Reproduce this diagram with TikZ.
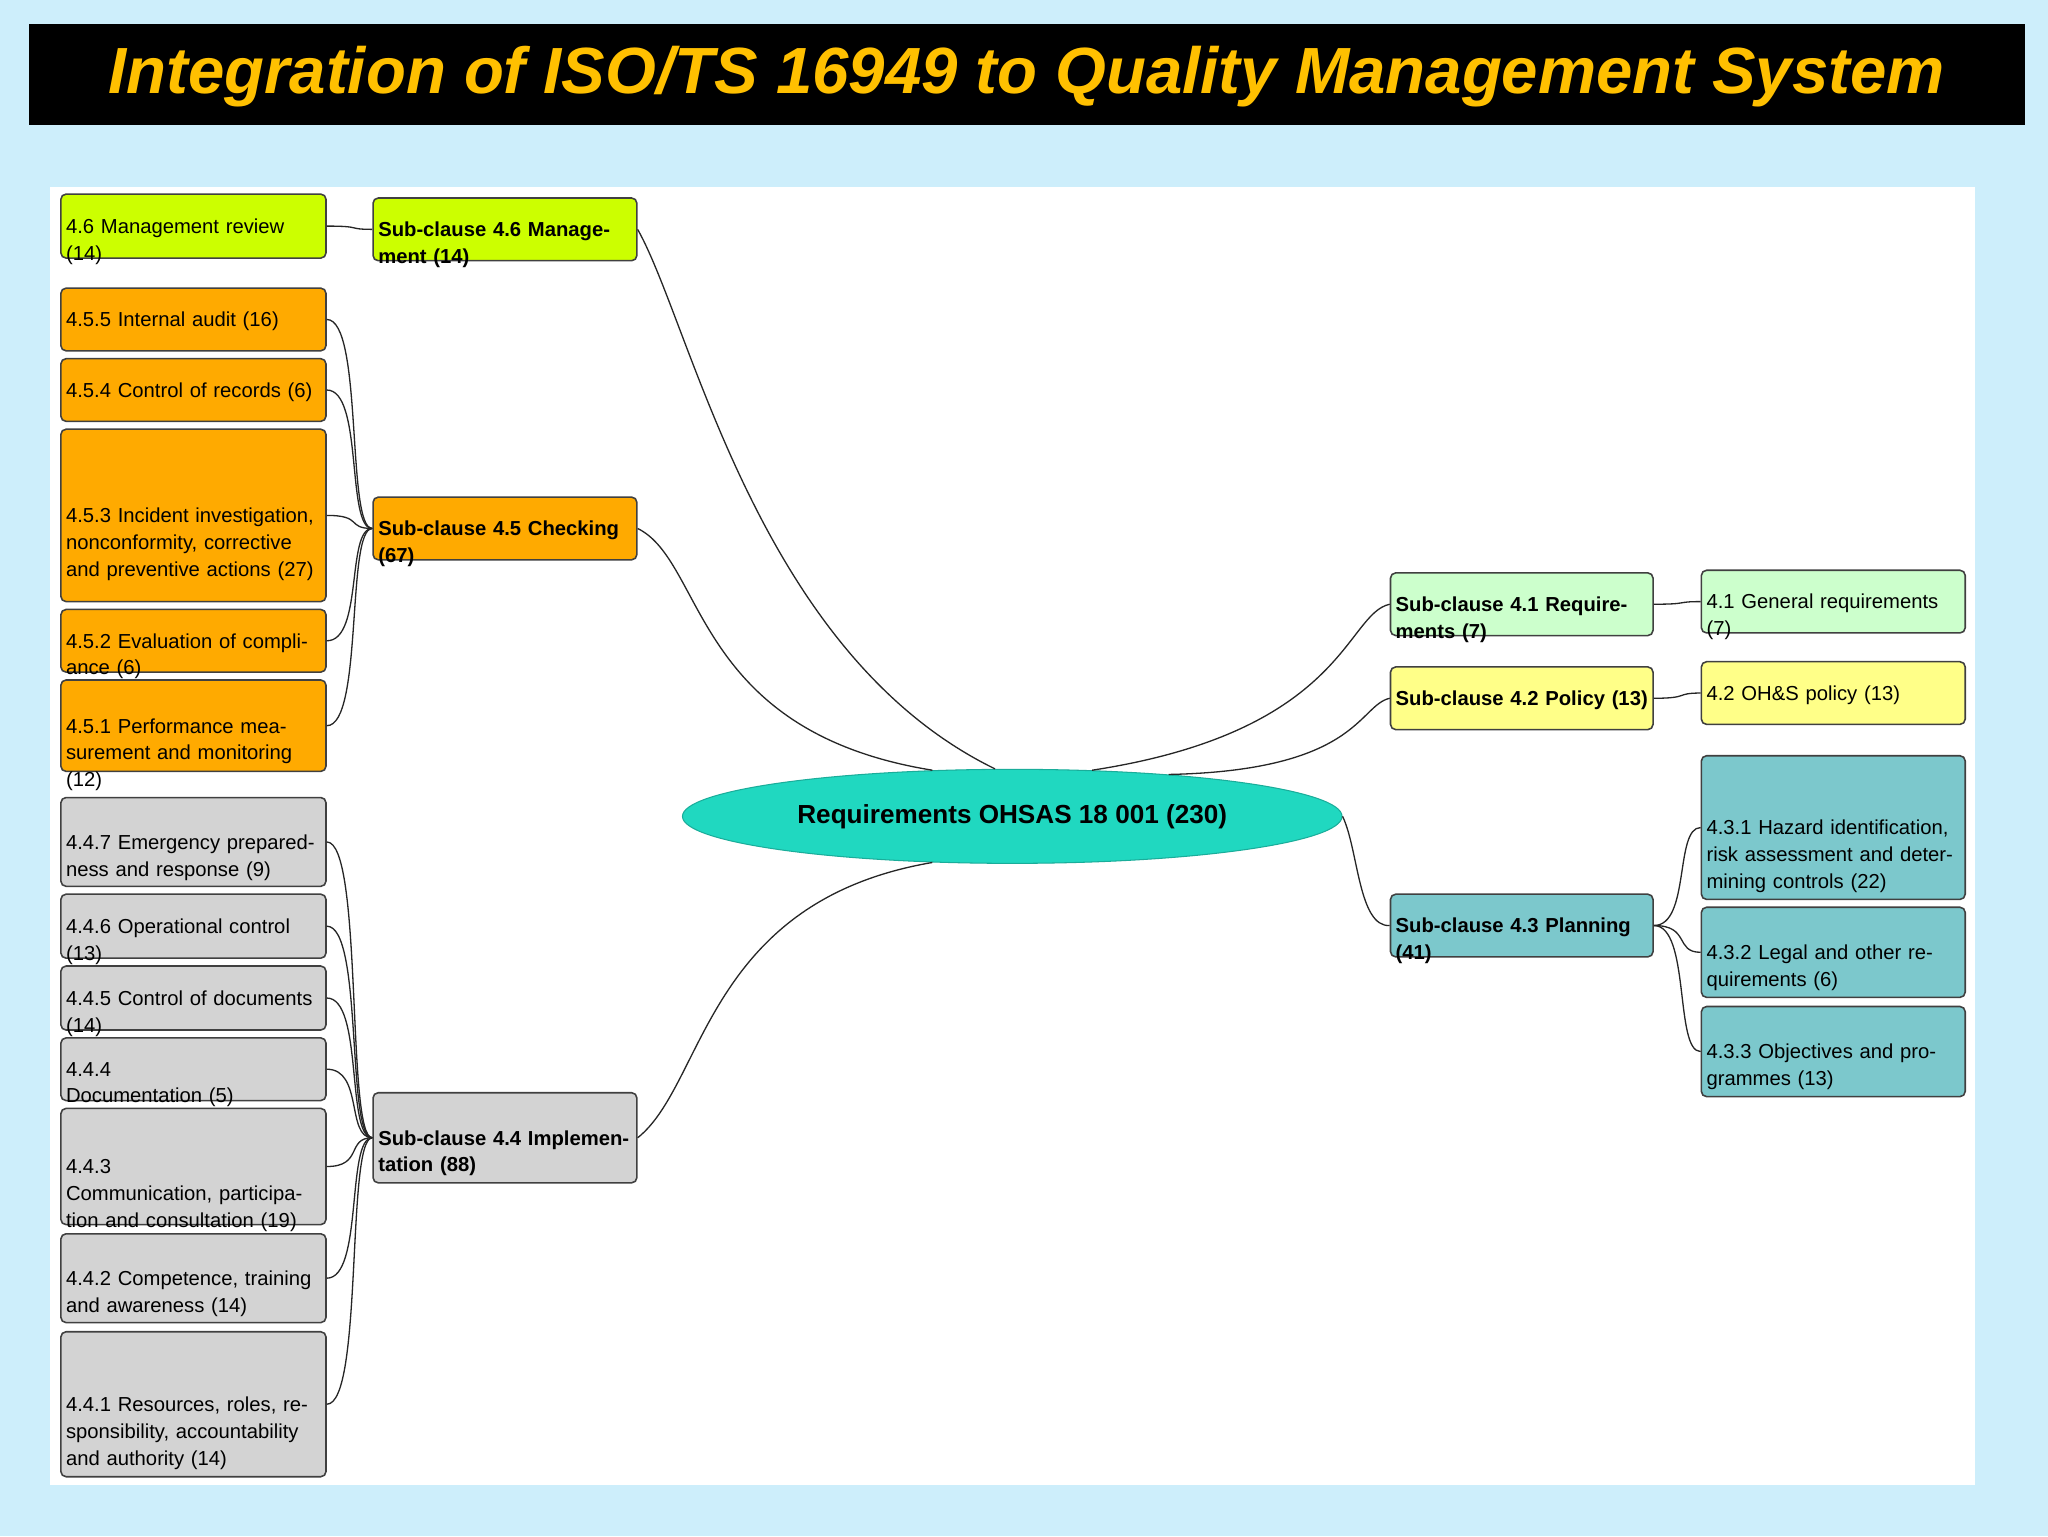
\documentclass[tikz,border=0pt]{standalone}
\usepackage{fontspec}
\setmainfont{Liberation Sans}
\usetikzlibrary{shapes.geometric}
\definecolor{bgc}{HTML}{CDEEFB}
\definecolor{ttl}{HTML}{FFC000}
\definecolor{lime}{HTML}{CCFF00}
\definecolor{orng}{HTML}{FFAA00}
\definecolor{gry}{HTML}{D3D3D3}
\definecolor{lgrn}{HTML}{CCFFCC}
\definecolor{ylw}{HTML}{FFFF88}
\definecolor{tea}{HTML}{7CC8CC}
\definecolor{cyn}{HTML}{20D8C0}
\tikzset{bx/.style={draw=black!75,line width=1.2pt,rounded corners=4pt,anchor=north west,align=left,inner xsep=4pt,inner ysep=2pt,font=\fontsize{15.5}{20.5}\selectfont,text depth=0pt},
ln/.style={draw=black!85,line width=1pt}}
\newcommand{\bx}[7]{\node[bx,fill=#6,minimum width=#4pt,minimum height=#5pt,text width=#4pt-8pt] (#1) at (#2,#3) {#7};}
\newcommand{\lk}[2]{\draw[ln] (#1.east) .. controls ([xshift=28pt]#1.east) and ([xshift=-20pt]#2.west) .. (#2.west);}
\begin{document}
\begin{tikzpicture}[x=1pt,y=-1pt]
\fill[bgc] (0,0) rectangle (1568,1176);
\fill[black] (22,18) rectangle (1550,96);
\node[text=ttl,font=\fontsize{50}{56}\selectfont\bfseries\itshape] (title) at (786,59) {Integration of ISO/TS 16949 to Quality Management System};
\fill[white] (38,143) rectangle (1512,1137);
% left leaves
\bx{a46}{46}{148}{203}{49}{lime}{4.6 Management review (14)}
\bx{s46}{285}{151}{202}{48}{lime}{\textbf{Sub-clause 4.6 Management (14)}}
\bx{a455}{46}{220}{203}{48}{orng}{4.5.5 Internal audit (16)}
\bx{a454}{46}{274}{203}{48}{orng}{4.5.4 Control of records (6)}
\bx{a453}{46}{328}{203}{132}{orng}{4.5.3 Incident investigation, nonconformity, corrective and preventive actions (27)}
\bx{a452}{46}{466}{203}{48}{orng}{4.5.2 Evaluation of compliance (6)}
\bx{a451}{46}{520}{203}{70}{orng}{4.5.1 Performance measurement and monitoring (12)}
\bx{s45}{285}{380}{202}{48}{orng}{\textbf{Sub-clause 4.5 Checking (67)}}
\bx{a447}{46}{610}{203}{68}{gry}{4.4.7 Emergency preparedness and response (9)}
\bx{a446}{46}{684}{203}{49}{gry}{4.4.6 Operational control (13)}
\bx{a445}{46}{739}{203}{49}{gry}{4.4.5 Control of documents (14)}
\bx{a444}{46}{794}{203}{48}{gry}{4.4.4\\Documentation (5)}
\bx{a443}{46}{848}{203}{89}{gry}{4.4.3\\Communication, participation and consultation (19)}
\bx{a442}{46}{944}{203}{68}{gry}{4.4.2 Competence, training and awareness (14)}
\bx{a441}{46}{1019}{203}{111}{gry}{4.4.1 Resources, roles, responsibility, accountability and authority (14)}
\bx{s44}{285}{836}{202}{69}{gry}{\textbf{Sub-clause 4.4 Implementation (88)}}
% right
\bx{s41}{1064}{438}{201}{48}{lgrn}{\textbf{Sub-clause 4.1 Requirements (7)}}
\bx{b41}{1302}{436}{202}{48}{lgrn}{4.1 General requirements (7)}
\bx{s42}{1064}{510}{201}{48}{ylw}{\textbf{Sub-clause 4.2 Policy (13)}}
\bx{b42}{1302}{506}{202}{48}{ylw}{4.2 OH\&S policy (13)}
\bx{s43}{1064}{684}{201}{48}{tea}{\textbf{Sub-clause 4.3 Planning (41)}}
\bx{b431}{1302}{578}{202}{110}{tea}{4.3.1 Hazard identification, risk assessment and determining controls (22)}
\bx{b432}{1302}{694}{202}{69}{tea}{4.3.2 Legal and other requirements (6)}
\bx{b433}{1302}{770}{202}{69}{tea}{4.3.3 Objectives and programmes (13)}
% center
\node[ellipse,fill=cyn,draw=cyn!80!black,line width=0.8pt,minimum width=505pt,minimum height=72pt,font=\fontsize{20}{24}\selectfont\bfseries] (c) at (775,625) {Requirements OHSAS 18 001 (230)};
% links
\lk{a46}{s46}
\foreach \n in {a455,a454,a453,a452,a451}{\lk{\n}{s45}}
\foreach \n in {a447,a446,a445,a444,a443,a442,a441}{\lk{\n}{s44}}
\lk{s41}{b41}
\lk{s42}{b42}
\foreach \n in {b431,b432,b433}{\lk{s43}{\n}}
\draw[ln] (s46.east) .. controls (530,250) and (580,500) .. (c.110);
\draw[ln] (s45.east) .. controls (540,430) and (530,560) .. (c.150);
\draw[ln] (s44.east) .. controls (540,830) and (540,690) .. (c.-150);
\draw[ln] (c.30) .. controls (1030,560) and (1030,470) .. (s41.west);
\draw[ln] (c.15) .. controls (1040,590) and (1040,540) .. (s42.west);
\draw[ln] (c.0) .. controls (1040,650) and (1040,710) .. (s43.west);
\end{tikzpicture}
\end{document}
